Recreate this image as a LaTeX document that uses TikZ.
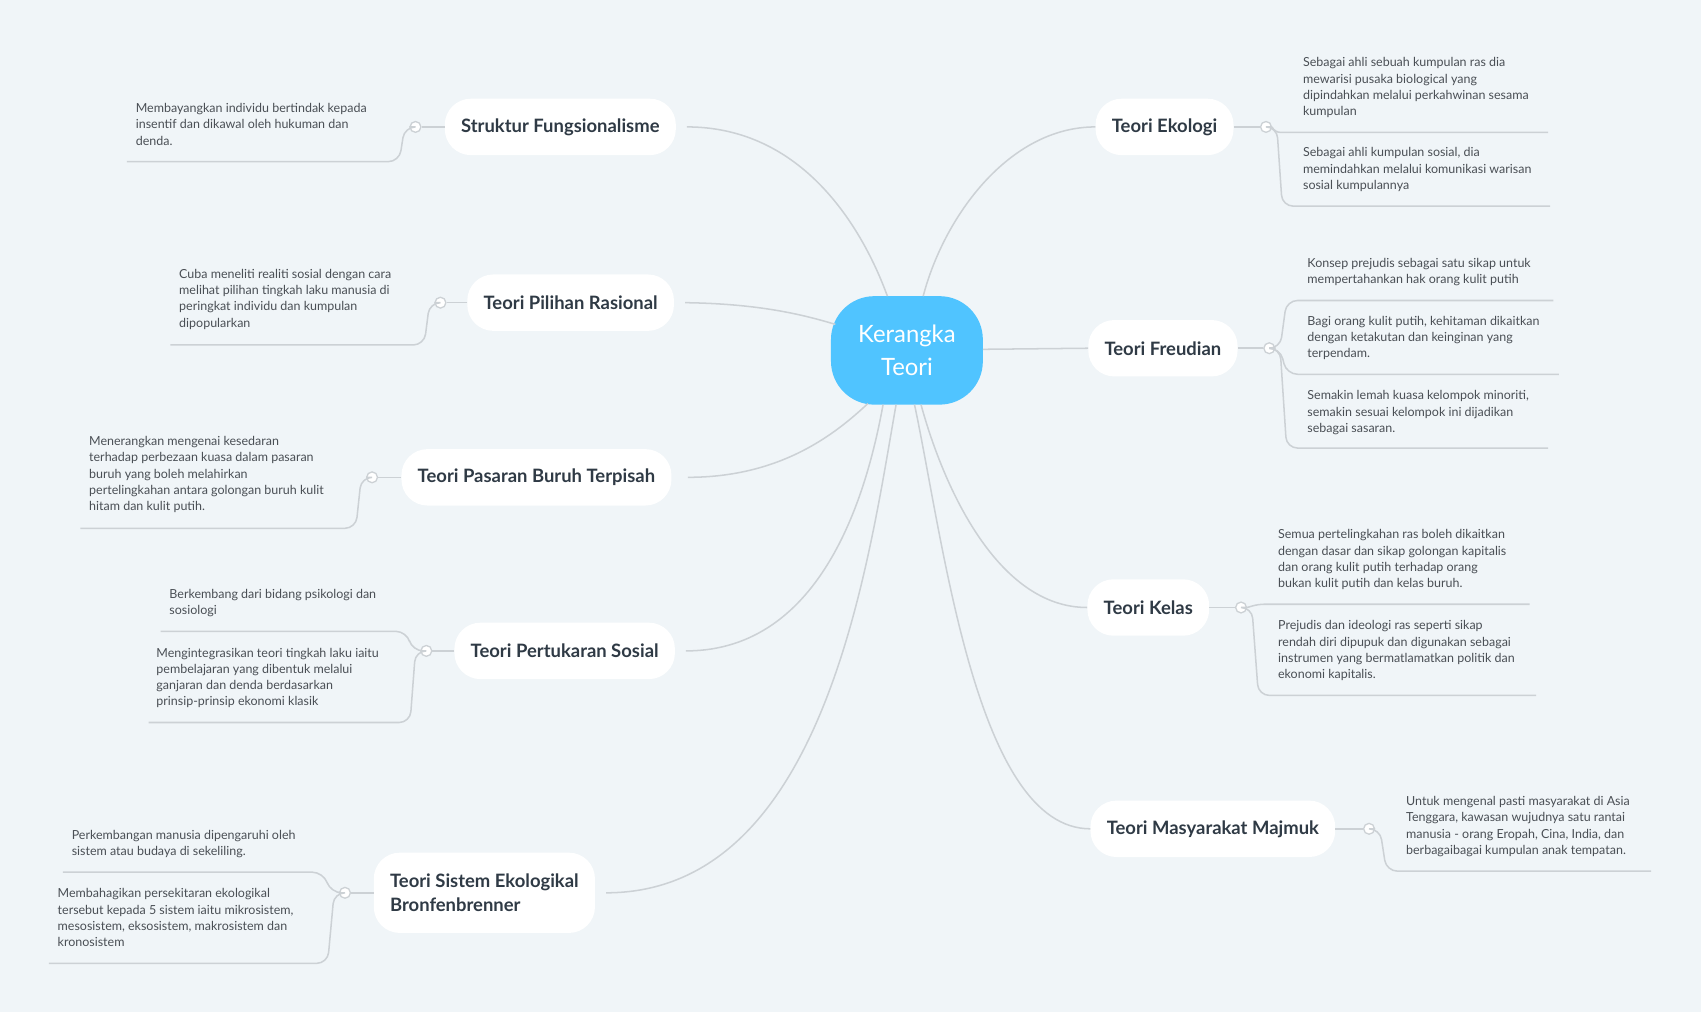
\documentclass[tikz,border=0pt]{standalone}
\usepackage{fontspec}
\setmainfont{Lato}
\begin{document}
\begin{tikzpicture}[x=1pt,y=-1pt,
  ln/.style={draw=lc,line width=1.4pt},
  topic/.style={fill=white,rounded corners=24pt,minimum height=52pt,inner xsep=15pt,font=\fontsize{17}{20}\selectfont\bfseries,text=tc},
  note/.style={anchor=north west,inner sep=0pt,align=left,font=\fontsize{11.5}{15}\selectfont,text=nc},
  dot/.style={circle,draw=lc,fill=white,line width=1.2pt,minimum size=10pt,inner sep=0pt}]
\definecolor{bg}{HTML}{F0F5F8}
\definecolor{lc}{HTML}{CCD1D5}
\definecolor{tc}{HTML}{2F3A45}
\definecolor{nc}{HTML}{4A4F55}
\definecolor{cb}{HTML}{50C4FF}
\fill[bg] (0,0) rectangle (1568,933);
\useasboundingbox (0,0) rectangle (1568,933);
% center
\node[fill=cb,rounded corners=40pt,minimum width=140pt,minimum height=100pt,text=white,align=center,font=\fontsize{22}{30}\selectfont] (c) at (836,323) {Kerangka\\Teori};
% topics
\node[topic] (t1) at (516.5,117) {Struktur Fungsionalisme};
\node[topic] (t2) at (526,279) {Teori Pilihan Rasional};
\node[topic] (t3) at (494.5,440) {Teori Pasaran Buruh Terpisah};
\node[topic] (t4) at (520.5,600) {Teori Pertukaran Sosial};
\node[topic,align=left,minimum height=74pt,font=\fontsize{17}{22}\selectfont\bfseries] (t5) at (446.5,823) {Teori Sistem Ekologikal\\Bronfenbrenner};
\node[topic] (r1) at (1073.5,117) {Teori Ekologi};
\node[topic] (r2) at (1072,321) {Teori Freudian};
\node[topic] (r3) at (1058.5,560) {Teori Kelas};
\node[topic] (r4) at (1118,764) {Teori Masyarakat Majmuk};
% center connectors
\begin{scope}[on background layer/.try]
\end{scope}
\coordinate (a1) at (818,273); \coordinate (a2) at (770,299);
\coordinate (a3) at (800,372); \coordinate (a4) at (814,373);
\coordinate (a5) at (826,373); \coordinate (b1) at (851,273);
\coordinate (b2) at (906,322); \coordinate (b3) at (849,373);
\coordinate (b4) at (843,373);
\draw[ln] (t1.east) ++(10,0) coordinate (e1);
\draw[ln] (e1) .. controls (740,117) and (795,210) .. (a1);
\draw[ln] ([xshift=10pt]t2.east) .. controls (700,280) and (740,290) .. (a2);
\draw[ln] ([xshift=15pt]t3.east) .. controls (720,440) and (770,400) .. (a3);
\draw[ln] ([xshift=10pt]t4.east) .. controls (760,600) and (800,450) .. (a4);
\draw[ln] ([xshift=10pt]t5.east) .. controls (760,823) and (800,520) .. (a5);
\draw[ln] (r1.west) .. controls (930,117) and (870,200) .. (b1);
\draw[ln] (r2.west) -- (b2);
\draw[ln] (r3.west) .. controls (920,560) and (870,450) .. (b3);
\draw[ln] (r4.west) .. controls (900,764) and (870,500) .. (b4);
% dots
\node[dot] (d1) at (383,117) {};
\node[dot] (d2) at (406,279) {};
\node[dot] (d3) at (343,440) {};
\node[dot] (d4) at (393,600) {};
\node[dot] (d5) at (318,823) {};
\node[dot] (e1d) at (1167,117) {};
\node[dot] (e2d) at (1170,321) {};
\node[dot] (e3d) at (1144,560) {};
\node[dot] (e4d) at (1262,764) {};
\draw[ln] (t1.west) -- (d1); \draw[ln] (t2.west) -- (d2);
\draw[ln] (t3.west) -- (d3); \draw[ln] (t4.west) -- (d4);
\draw[ln] (t5.west) -- (d5);
\draw[ln] (r1.east) -- (e1d); \draw[ln] (r2.east) -- (e2d);
\draw[ln] (r3.east) -- (e3d); \draw[ln] (r4.east) -- (e4d);
% left notes
\node[note] (n1) at (125,95) {Membayangkan individu bertindak kepada\\insentif dan dikawal oleh hukuman dan\\denda.};
\draw[ln,rounded corners=10pt] (d1.west) -- (373,117) -- (368,149) -- (117,149);
\node[note] (n2) at (165,248) {Cuba meneliti realiti sosial dengan cara\\melihat pilihan tingkah laku manusia di\\peringkat individu dan kumpulan\\dipopularkan};
\draw[ln,rounded corners=10pt] (d2.west) -- (396,279) -- (391,318) -- (157,318);
\node[note] (n3) at (82,402) {Menerangkan mengenai kesedaran\\terhadap perbezaan kuasa dalam pasaran\\buruh yang boleh melahirkan\\pertelingkahan antara golongan buruh kulit\\hitam dan kulit putih.};
\draw[ln,rounded corners=10pt] (d3.west) -- (333,440) -- (328,487) -- (74,487);
\node[note] (n4) at (156,543) {Berkembang dari bidang psikologi dan\\sosiologi};
\draw[ln,rounded corners=10pt] (d4.west) -- (380,600) -- (375,582) -- (148,582);
\node[note] (n5) at (144,597) {Mengintegrasikan teori tingkah laku iaitu\\pembelajaran yang dibentuk melalui\\ganjaran dan denda berdasarkan\\prinsip-prinsip ekonomi klasik};
\draw[ln,rounded corners=10pt] (d4.west) -- (383,600) -- (378,666) -- (137,666);
\node[note] (n6) at (66,765) {Perkembangan manusia dipengaruhi oleh\\sistem atau budaya di sekeliling.};
\draw[ln,rounded corners=10pt] (d5.west) -- (305,823) -- (298,804) -- (58,804);
\node[note] (n7) at (53,819) {Membahagikan persekitaran ekologikal\\tersebut kepada 5 sistem iaitu mikrosistem,\\mesosistem, eksosistem, makrosistem dan\\kronosistem};
\draw[ln,rounded corners=10pt] (d5.west) -- (308,823) -- (302,888) -- (45,888);
% right notes
\node[note] (m1) at (1201,53) {Sebagai ahli sebuah kumpulan ras dia\\mewarisi pusaka biological yang\\dipindahkan melalui perkahwinan sesama\\kumpulan};
\draw[ln,rounded corners=5pt] (e1d.east) -- (1175,122) -- (1427,122);
\node[note] (m2) at (1201,136) {Sebagai ahli kumpulan sosial, dia\\memindahkan melalui komunikasi warisan\\sosial kumpulannya};
\draw[ln,rounded corners=10pt] (e1d.east) -- (1177,117) -- (1182,190) -- (1429,190);
\node[note] (m3) at (1205,238) {Konsep prejudis sebagai satu sikap untuk\\mempertahankan hak orang kulit putih};
\draw[ln,rounded corners=10pt] (e2d.east) -- (1180,321) -- (1186,277) -- (1432,277);
\node[note] (m4) at (1205,291) {Bagi orang kulit putih, kehitaman dikaitkan\\dengan ketakutan dan keinginan yang\\terpendam.};
\draw[ln,rounded corners=10pt] (e2d.east) -- (1180,321) -- (1186,345) -- (1437,345);
\node[note] (m5) at (1205,360) {Semakin lemah kuasa kelompok minoriti,\\semakin sesuai kelompok ini dijadikan\\sebagai sasaran.};
\draw[ln,rounded corners=10pt] (e2d.east) -- (1180,321) -- (1186,413) -- (1427,413);
\node[note] (m6) at (1178,488) {Semua pertelingkahan ras boleh dikaitkan\\dengan dasar dan sikap golongan kapitalis\\dan orang kulit putih terhadap orang\\bukan kulit putih dan kelas buruh.};
\draw[ln,rounded corners=5pt] (e3d.east) -- (1160,557) -- (1410,557);
\node[note] (m7) at (1178,572) {Prejudis dan ideologi ras seperti sikap\\rendah diri dipupuk dan digunakan sebagai\\instrumen yang bermatlamatkan politik dan\\ekonomi kapitalis.};
\draw[ln,rounded corners=10pt] (e3d.east) -- (1154,560) -- (1160,641) -- (1416,641);
\node[note] (m8) at (1296,734) {Untuk mengenal pasti masyarakat di Asia\\Tenggara, kawasan wujudnya satu rantai\\manusia - orang Eropah, Cina, India, dan\\berbagaibagai kumpulan anak tempatan.};
\draw[ln,rounded corners=10pt] (e4d.east) -- (1272,764) -- (1278,803) -- (1522,803);
\end{tikzpicture}
\end{document}
